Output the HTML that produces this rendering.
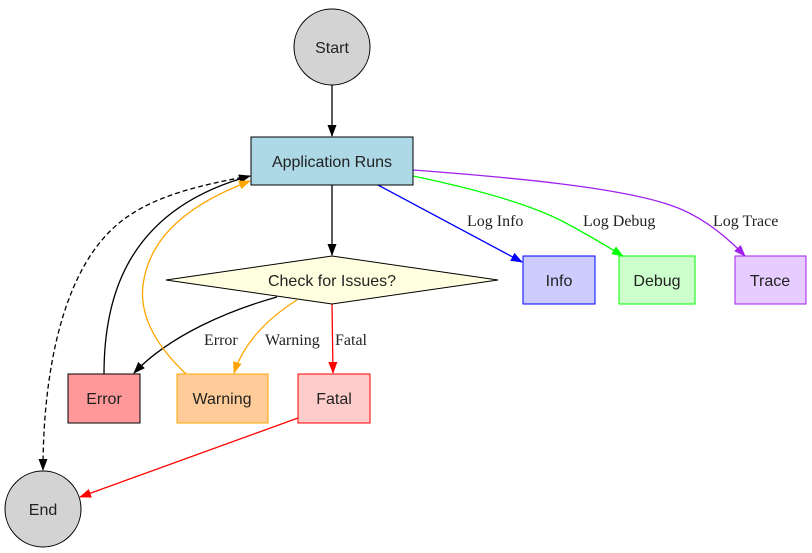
<!DOCTYPE html>
<html><head><meta charset="utf-8"><style>
html,body{margin:0;padding:0;background:#fff;}
svg{display:block;}
.s{font-family:"Liberation Sans",Arial,sans-serif;font-size:16px;fill:#222;}
.l{font-family:"Liberation Serif","Times New Roman",serif;font-size:16px;fill:#222;}
</style></head><body>
<svg width="812" height="553" viewBox="0 0 812 553" xmlns="http://www.w3.org/2000/svg">
<defs>
<marker id="ak" markerWidth="12" markerHeight="12" refX="11" refY="6" orient="auto" markerUnits="userSpaceOnUse"><path d="M0,1.5 L12,6 L0,10.5 z" fill="#000"/></marker>
<marker id="ab" markerWidth="12" markerHeight="12" refX="11" refY="6" orient="auto" markerUnits="userSpaceOnUse"><path d="M0,1.5 L12,6 L0,10.5 z" fill="#00f"/></marker>
<marker id="ag" markerWidth="12" markerHeight="12" refX="11" refY="6" orient="auto" markerUnits="userSpaceOnUse"><path d="M0,1.5 L12,6 L0,10.5 z" fill="#0f0"/></marker>
<marker id="ap" markerWidth="12" markerHeight="12" refX="11" refY="6" orient="auto" markerUnits="userSpaceOnUse"><path d="M0,1.5 L12,6 L0,10.5 z" fill="#a020f0"/></marker>
<marker id="ao" markerWidth="12" markerHeight="12" refX="11" refY="6" orient="auto" markerUnits="userSpaceOnUse"><path d="M0,1.5 L12,6 L0,10.5 z" fill="#ffa500"/></marker>
<marker id="ar" markerWidth="12" markerHeight="12" refX="11" refY="6" orient="auto" markerUnits="userSpaceOnUse"><path d="M0,1.5 L12,6 L0,10.5 z" fill="#f00"/></marker>
</defs>
<g fill="none" stroke-width="1.3">
<path d="M332,85 L332,136" stroke="#000" marker-end="url(#ak)"/>
<path d="M332,185 L332,255" stroke="#000" marker-end="url(#ak)"/>
<path d="M378,185 L522,262" stroke="#00f" marker-end="url(#ab)"/>
<path d="M413,176 C480,190 530,205 560,220 C585,233 605,245 623,256" stroke="#0f0" marker-end="url(#ag)"/>
<path d="M413,170 C520,178 620,188 670,205 C700,215 725,235 745,256" stroke="#a020f0" marker-end="url(#ap)"/>
<path d="M277,297 C230,310 170,335 134,373" stroke="#000" marker-end="url(#ak)"/>
<path d="M297,300 C265,320 243,345 234,373" stroke="#ffa500" marker-end="url(#ao)"/>
<path d="M332,304 L333,373" stroke="#f00" marker-end="url(#ar)"/>
<path d="M104,374 C104,300 125,210 250,176" stroke="#000" marker-end="url(#ak)"/>
<path d="M186,374 C150,340 140,310 143,285 C150,230 200,200 250,181" stroke="#ffa500" marker-end="url(#ao)"/>
<path d="M250,176 C200,185 160,195 130,215 C60,260 43,380 43,470" stroke="#000" stroke-dasharray="5,3" marker-end="url(#ak)"/>
<path d="M298,418 L80,497" stroke="#f00" marker-end="url(#ar)"/>
</g>
<circle cx="332" cy="47" r="38" fill="#d3d3d3" stroke="#000"/>
<text class="s" x="332" y="53" text-anchor="middle">Start</text>
<rect x="251" y="137" width="162" height="48" fill="#add8e6" stroke="#000"/>
<text class="s" x="332" y="167" text-anchor="middle">Application Runs</text>
<polygon points="166,280 332,256 498,280 332,304" fill="#ffffe0" stroke="#000"/>
<text class="s" x="332" y="286" text-anchor="middle">Check for Issues?</text>
<rect x="523" y="256" width="72" height="48" fill="#ccccff" stroke="#00f"/>
<text class="s" x="559" y="286" text-anchor="middle">Info</text>
<rect x="619" y="256" width="76" height="48" fill="#ccffcc" stroke="#0f0"/>
<text class="s" x="657" y="286" text-anchor="middle">Debug</text>
<rect x="735" y="256" width="71" height="48" fill="#e6ccff" stroke="#a020f0"/>
<text class="s" x="770" y="286" text-anchor="middle">Trace</text>
<rect x="68" y="374" width="72" height="49" fill="#ff9999" stroke="#000"/>
<text class="s" x="104" y="404" text-anchor="middle">Error</text>
<rect x="177" y="374" width="91" height="49" fill="#ffcc99" stroke="#ffa500"/>
<text class="s" x="222" y="404" text-anchor="middle">Warning</text>
<rect x="298" y="374" width="72" height="49" fill="#ffcccc" stroke="#f00"/>
<text class="s" x="334" y="404" text-anchor="middle">Fatal</text>
<circle cx="43" cy="509" r="38" fill="#d3d3d3" stroke="#000"/>
<text class="s" x="43" y="515" text-anchor="middle">End</text>
<text class="l" x="204" y="345">Error</text>
<text class="l" x="265" y="345">Warning</text>
<text class="l" x="335" y="345">Fatal</text>
<text class="l" x="467" y="226">Log Info</text>
<text class="l" x="583" y="226">Log Debug</text>
<text class="l" x="713" y="226">Log Trace</text>
</svg>
</body></html>
